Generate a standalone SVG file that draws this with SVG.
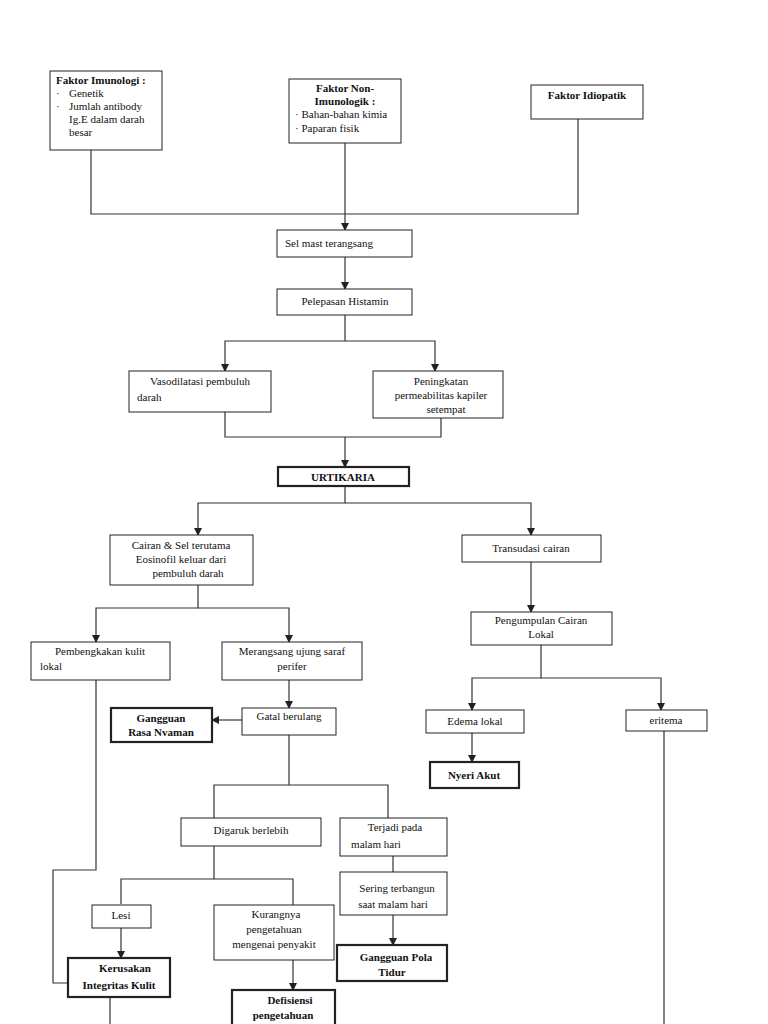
<svg xmlns="http://www.w3.org/2000/svg" width="768" height="1024" viewBox="0 0 768 1024">
<style>
text{font-family:"Liberation Serif",serif;font-size:11px;fill:#111}
.b{font-weight:bold}
rect{fill:#fff;stroke:#222;stroke-width:1}
.t{stroke-width:2.2}
#c path,#c line{stroke:#333;stroke-width:1.2;fill:none}
</style>
<defs><marker id="a" markerWidth="8" markerHeight="8" refX="7" refY="4" orient="auto" markerUnits="userSpaceOnUse"><path d="M0,0L8,4L0,8z" fill="#222"/></marker></defs>
<rect width="768" height="1024" style="stroke:none"/>
<g id="c">
<path d="M91,150V214H578V119"/><path d="M345,143V230" marker-end="url(#a)"/>
<path d="M345,257V289" marker-end="url(#a)"/>
<path d="M345,315V341H225V371" marker-end="url(#a)"/><path d="M345,341H435V371" marker-end="url(#a)"/>
<path d="M225,412V437H441V418"/><path d="M345,437V467" marker-end="url(#a)"/>
<path d="M345,486V503H198V535" marker-end="url(#a)"/><path d="M345,503H531V535" marker-end="url(#a)"/>
<path d="M198,585V608H96V642" marker-end="url(#a)"/><path d="M198,608H289V642" marker-end="url(#a)"/>
<path d="M531,562V612" marker-end="url(#a)"/>
<path d="M541,645V678H472V710" marker-end="url(#a)"/><path d="M541,678H661V710" marker-end="url(#a)"/>
<path d="M289,680V708" marker-end="url(#a)"/>
<path d="M242,720H212" marker-end="url(#a)"/>
<path d="M472,733V762" marker-end="url(#a)"/>
<path d="M664,731V1024"/>
<path d="M289,735V785H214V818"/><path d="M289,785H388V818"/>
<path d="M393,856V872"/><path d="M393,915V945" marker-end="url(#a)"/>
<path d="M214,846V879H121V904"/><path d="M214,879H293V905"/>
<path d="M121,928V958" marker-end="url(#a)"/>
<path d="M96,680V870H53V983H68"/>
<path d="M110,997V1024"/>
<path d="M293,960V990" marker-end="url(#a)"/>
</g>
<g id="n1"><rect x="50" y="71" width="112" height="79"/><text x="56" y="84" class="b">Faktor Imunologi :</text><text x="56" y="97">·</text><text x="69" y="97">Genetik</text><text x="56" y="110">·</text><text x="69" y="110">Jumlah antibody</text><text x="69" y="123">Ig.E dalam darah</text><text x="69" y="136">besar</text></g>
<g id="n2"><rect x="289" y="79" width="112" height="64"/><text x="345" y="92" class="b" text-anchor="middle">Faktor Non-</text><text x="345" y="105" class="b" text-anchor="middle">Imunologik :</text><text x="295" y="118">· Bahan-bahan kimia</text><text x="295" y="132">· Paparan fisik</text></g>
<g id="n3"><rect x="531" y="85" width="112" height="34"/><text x="587" y="99" class="b" text-anchor="middle">Faktor Idiopatik</text></g>
<g id="n4"><rect x="277" y="230" width="135" height="27"/><text x="285" y="247">Sel mast terangsang</text></g>
<g id="n5"><rect x="277" y="289" width="135" height="26"/><text x="345" y="305" text-anchor="middle">Pelepasan Histamin</text></g>
<g id="n6"><rect x="129" y="371" width="142" height="41"/><text x="200" y="385" text-anchor="middle">Vasodilatasi pembuluh</text><text x="137" y="401">darah</text></g>
<g id="n7"><rect x="373" y="371" width="130" height="47"/><text x="441" y="385" text-anchor="middle">Peningkatan</text><text x="441" y="399" text-anchor="middle">permeabilitas kapiler</text><text x="446" y="413" text-anchor="middle">setempat</text></g>
<g id="n8"><rect x="278" y="467" width="131" height="19" class="t"/><text x="343" y="481" class="b" text-anchor="middle">URTIKARIA</text></g>
<g id="n9"><rect x="110" y="535" width="143" height="50"/><text x="181" y="549" text-anchor="middle">Cairan &amp; Sel terutama</text><text x="181" y="563" text-anchor="middle">Eosinofil keluar dari</text><text x="188" y="577" text-anchor="middle">pembuluh darah</text></g>
<g id="n10"><rect x="462" y="535" width="139" height="27"/><text x="531" y="552" text-anchor="middle">Transudasi cairan</text></g>
<g id="n11"><rect x="471" y="612" width="141" height="33"/><text x="541" y="624" text-anchor="middle">Pengumpulan Cairan</text><text x="541" y="638" text-anchor="middle">Lokal</text></g>
<g id="n12"><rect x="31" y="642" width="139" height="38"/><text x="100" y="655" text-anchor="middle">Pembengkakan kulit</text><text x="40" y="670">lokal</text></g>
<g id="n13"><rect x="222" y="642" width="140" height="38"/><text x="292" y="655" text-anchor="middle">Merangsang ujung saraf</text><text x="292" y="670" text-anchor="middle">perifer</text></g>
<g id="n14"><rect x="242" y="708" width="94" height="27"/><text x="289" y="720" text-anchor="middle">Gatal berulang</text></g>
<g id="n15"><rect x="111" y="708" width="101" height="34" class="t"/><text x="161" y="722" class="b" text-anchor="middle">Gangguan</text><text x="161" y="736" class="b" text-anchor="middle">Rasa Nvaman</text></g>
<g id="n16"><rect x="426" y="710" width="98" height="23"/><text x="475" y="725" text-anchor="middle">Edema lokal</text></g>
<g id="n17"><rect x="626" y="710" width="81" height="21"/><text x="666" y="724" text-anchor="middle">eritema</text></g>
<g id="n18"><rect x="430" y="762" width="89" height="26" class="t"/><text x="474" y="779" class="b" text-anchor="middle">Nyeri Akut</text></g>
<g id="n19"><rect x="181" y="818" width="140" height="28"/><text x="251" y="834" text-anchor="middle">Digaruk berlebih</text></g>
<g id="n20"><rect x="340" y="818" width="107" height="38"/><text x="395" y="831" text-anchor="middle">Terjadi pada</text><text x="376" y="848" text-anchor="middle">malam hari</text></g>
<g id="n21"><rect x="340" y="872" width="107" height="43"/><text x="397" y="892" text-anchor="middle">Sering terbangun</text><text x="393" y="908" text-anchor="middle">saat malam hari</text></g>
<g id="n22"><rect x="337" y="945" width="110" height="36" class="t"/><text x="396" y="961" class="b" text-anchor="middle">Gangguan Pola</text><text x="392" y="976" class="b" text-anchor="middle">Tidur</text></g>
<g id="n23"><rect x="92" y="905" width="59" height="23"/><text x="121" y="919" text-anchor="middle">Lesi</text></g>
<g id="n24"><rect x="214" y="905" width="120" height="55"/><text x="276" y="918" text-anchor="middle">Kurangnya</text><text x="274" y="933" text-anchor="middle">pengetahuan</text><text x="274" y="948" text-anchor="middle">mengenai penyakit</text></g>
<g id="n25"><rect x="68" y="958" width="102" height="39" class="t"/><text x="125" y="972" class="b" text-anchor="middle">Kerusakan</text><text x="119" y="989" class="b" text-anchor="middle">Integritas Kulit</text></g>
<g id="n26"><rect x="232" y="990" width="103" height="40" class="t"/><text x="290" y="1004" class="b" text-anchor="middle">Defisiensi</text><text x="283" y="1019" class="b" text-anchor="middle">pengetahuan</text></g>
</svg>
